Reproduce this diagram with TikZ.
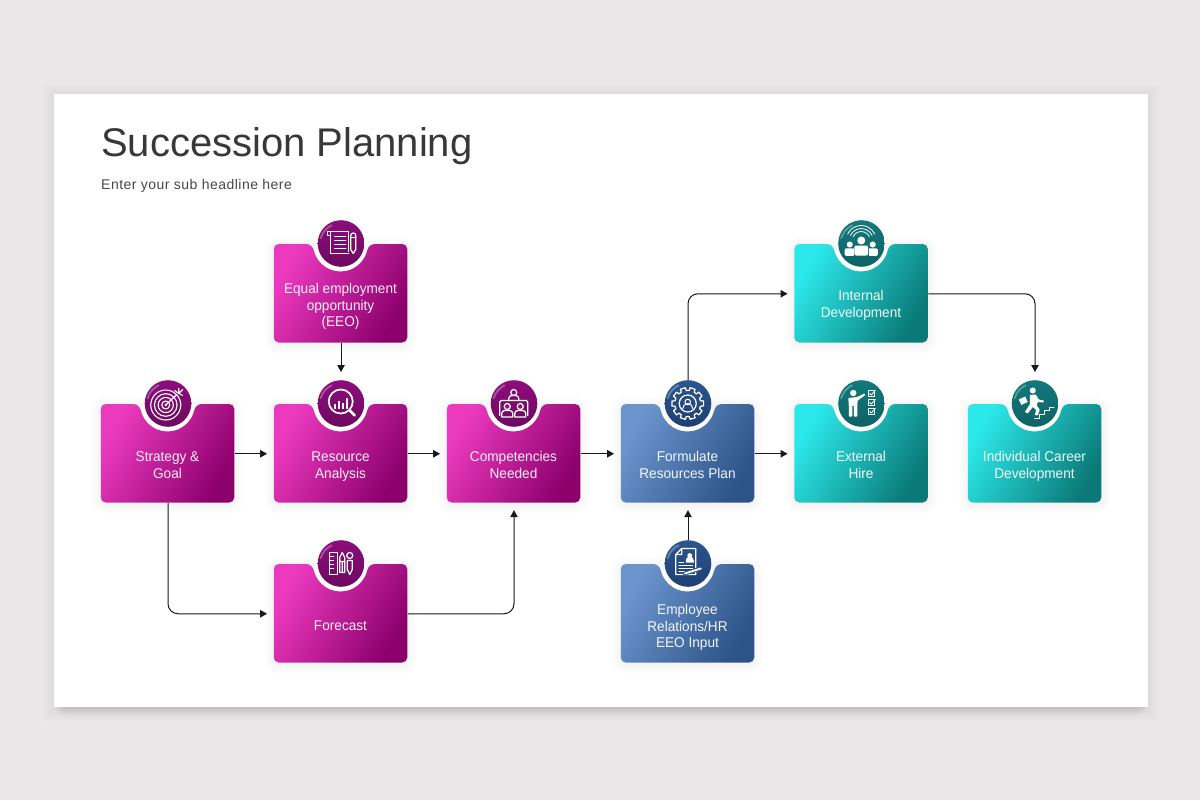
\documentclass[tikz,border=0pt]{standalone}
\usepackage{fontspec}
\setmainfont{Liberation Sans}
\newfontfamily\cardfont[FakeStretch=0.96]{Liberation Sans}
\usetikzlibrary{arrows.meta,calc}
\definecolor{pageBg}{HTML}{E9E7E8}
\definecolor{magA}{HTML}{EC3ABF}\definecolor{magB}{HTML}{8C006C}\definecolor{magC}{HTML}{8E0C7C}\definecolor{magD}{HTML}{6C0A60}
\definecolor{bluA}{HTML}{6C95CE}\definecolor{bluB}{HTML}{2C5488}\definecolor{bluC}{HTML}{2C5690}\definecolor{bluD}{HTML}{1E3F72}
\definecolor{teaA}{HTML}{2CE8EA}\definecolor{teaB}{HTML}{0A7A78}\definecolor{teaC}{HTML}{12797C}\definecolor{teaD}{HTML}{0E6264}
\tikzset{
  x=1pt,y=-1pt,
  cardbox/.style={minimum width=133.5pt,minimum height=98.5pt,inner sep=0pt},
  cardlabel/.style={text=white,text opacity=.93,align=center,font=\cardfont\fontsize{14.2}{16.6}\selectfont,inner sep=0pt,
    execute at begin node=\strut,execute at end node=\strut},
  ballnode/.style={circle,minimum size=46.6pt,inner sep=0pt},
  link/.style={draw=black!90,line width=1pt,rounded corners=10pt,-{Triangle[length=7pt,width=7.5pt]}},
  ico/.style={draw=white,line width=1.25pt,line join=round,line cap=round,fill=none},
}
% card: [label offset], name, cx, top, palette prefix, text, icon macro
\newcommand{\mycard}[7][63.5]{%
  \begin{scope}[shift={(#3,#4)}]
    \foreach \w in {2,4,...,20}
      \draw[black,opacity=.005,line width=\w pt,rounded corners=6pt] (-66.7,2) rectangle (66.7,100);
    \node[cardbox] (#2) at (0.5,49.75) {};
    \shade[left color=#5A,right color=#5B,shading angle=60]
      (-66.75,5) arc[start angle=180,end angle=270,radius=5]
      -- (-34.6,0) arc[start angle=-90,end angle=-13,radius=8]
      arc[start angle=167,end angle=13,radius=27.5]
      arc[start angle=193,end angle=270,radius=8]
      -- (61.75,0) arc[start angle=-90,end angle=0,radius=5]
      -- (66.75,93.5) arc[start angle=0,end angle=90,radius=5]
      -- (-61.75,98.5) arc[start angle=90,end angle=180,radius=5] -- cycle;
    \node[cardlabel] (#2-label) at (0,#1) {#6};
    \node[ballnode,top color=#5C,bottom color=#5D] (#2-ball) at (0.5,-0.5) {};
    \draw[white,opacity=.28,line width=2pt,line cap=round] (-0.5,-0.5)++(195:20) arc[start angle=195,end angle=245,radius=20];
    \begin{scope}[shift={(0.25,-0.5)}]#7\end{scope}
  \end{scope}}
\newcommand{\iconTarget}{%
  \foreach \r in {15,11.3,7.6,4}\draw[ico,line width=1.1pt] (-2,1.5) circle[radius=\r];
  \fill[white] (-2,1.5) circle[radius=1.4];
  \draw[ico] (-2,1.5) -- (9,-9);
  \draw[ico,line width=1.1pt] (7,-13) -- (11,-10) -- (15,-14) (11,-15) -- (11,-10) -- (15,-8);}
\newcommand{\iconLens}{%
  \draw[ico,line width=1.7pt] (0,-2) circle[radius=12];
  \draw[ico,line width=2.8pt] (9,7) -- (14,12);
  \foreach \x/\h in {-6/5,-2/8,2/6,6/11}\draw[ico,line width=2.4pt,line cap=butt] (\x,5) -- (\x,5-\h);}
\newcommand{\iconDoc}{%
  \draw[ico] (8,8) -- (8,-12) -- (-10,-12) -- (-10,-8) -- (-13,-8) -- (-13,-12) -- (-10,-12) (-10,-8) -- (-10,10) -- (8,10);
  \foreach \y in {-7,-3,1,5}\draw[ico] (-6,\y) -- (5,\y);
  \draw[ico] (10,-8) -- (10,6) -- (12.5,10) -- (15,6) -- (15,-8) arc[start angle=0,end angle=-180,radius=2.5] -- cycle;
  \draw[ico] (10,-6) -- (15,-6);}
\newcommand{\iconMeet}{%
  \draw[ico] (0,-11) circle[radius=3];
  \draw[ico] (-5,-3) -- (-5,-5) arc[start angle=180,end angle=270,radius=3] -- (2,-8) arc[start angle=-90,end angle=0,radius=3] -- (5,-3);
  \draw[ico,rounded corners=1.5pt] (-14,12) -- (-14,-3) -- (14,-3) -- (14,12);
  \foreach \x in {-6.5,6.5}{
    \draw[ico,fill=magC] (\x,3) circle[radius=3];
    \draw[ico] (\x-5.5,13.5) -- (\x-5.5,10) arc[start angle=180,end angle=270,radius=3] -- (\x+2.5,7) arc[start angle=-90,end angle=0,radius=3] -- (\x+5.5,13.5) -- cycle;}
  }
\newcommand{\iconGear}{%
  \foreach \a in {0,36,...,324}
    \draw[ico] (\a-9:16) -- (\a+9:16) -- (\a+12:13) -- (\a+24:13) -- (\a+27:16);
  \draw[ico] (0,0) circle[radius=8.5];
  \draw[ico,line width=1pt] (0,-1.5) circle[radius=2.8];
  \draw[ico,line width=1pt] (-5,5) arc[start angle=180,end angle=360,radius=5];}
\newcommand{\iconTools}{%
  \draw[ico] (-11,-11) rectangle (-3,11);
  \foreach \y in {-7,-3,1,5}\draw[ico,line width=.9pt] (-11,\y) -- (-7,\y);
  \draw[ico] (-1,9) -- (-1,-6) -- (1.5,-11) -- (4,-6) -- (4,9) -- cycle (-1,-2)--(4,-2) (1.5,-2)--(1.5,9);
  \draw[ico] (6.5,-3) -- (6.5,6) -- (9,11) -- (11.5,6) -- (11.5,-3) -- cycle (9,-8) circle[radius=3];}
\newcommand{\iconForm}{%
  \draw[ico] (-6,-15) -- (8,-15) -- (8,11) -- (-12,11) -- (-12,-9) -- cycle (-6,-15) -- (-6,-9) -- (-12,-9);
  \fill[white] (2,-8) circle[radius=2.4];
  \fill[white] (-2,-1) -- (-2,-3) arc[start angle=180,end angle=360,radius=4] -- (6,-1) -- cycle;
  \foreach \y in {2,5}\draw[ico,line width=.9pt] (-9,\y) -- (5,\y);
  \draw[ico,line width=.9pt] (-9,-1) -- (-4,-1);
  \draw[ico,line width=.9pt] (-9,8) -- (-3,8);
  \draw[ico,draw=bluC,line width=4pt] (-3,10) -- (13,5);
  \draw[ico,line width=1.8pt] (-3,10) -- (13,5);}
\newcommand{\personF}[3]{% x,y,scale
  \fill[white] (#1,#2) circle[radius=3.2*#3];
  \fill[white,rounded corners=2pt] (#1-5.5*#3,#2+12*#3) -- (#1-5.5*#3,#2+4*#3) -- (#1+5.5*#3,#2+4*#3) -- (#1+5.5*#3,#2+12*#3) -- cycle;}
\newcommand{\iconGroup}{%
  \personF{-11.5}{1}{.95}
  \personF{11.5}{1}{.95}
  \draw[teaC,line width=3pt] (-6,3) rectangle (6,11);
  \personF{0}{-3}{1.25}
  \foreach \r in {9,12,15}\draw[ico,line width=.8pt] (0,-3)++(-155:\r) arc[start angle=-155,end angle=-25,radius=\r];}
\newcommand{\iconCoach}{%
  \fill[white] (-8,-10.5) circle[radius=3.2];
  \fill[white,rounded corners=.6pt] (-13,-5.5) -- (-4,-6.5) -- (3,-10) -- (4,-8.5) -- (-3.5,-3) -- (-4,1) -- (-4,13) -- (-7.5,13) -- (-7.5,2) -- (-9,2) -- (-9,13) -- (-12.5,13) -- (-12.5,1) -- cycle;
  \foreach \y in {-10,-1,8}{
    \draw[ico,line width=.9pt] (7,\y-3) rectangle (13.5,\y+3);
    \draw[ico,line width=.9pt] (8.5,\y) -- (10,\y+1.5) -- (14,\y-3);}}
\newcommand{\iconRun}{%
  \fill[white] (-2,-13) circle[radius=3];
  \fill[white,rounded corners=.6pt] (-5,-8.5) -- (1,-9) -- (4,-4) -- (9,-3) -- (9,-1) -- (3,-1.5) -- (2,2) -- (5,6) -- (3,12) -- (0,11.5) -- (1.5,6.5) -- (-2,3.5) -- (-7,10) -- (-10,8.5) -- (-5,1) -- cycle;
  \fill[white,rotate around={25:(-11,-3)}] (-15,-6) rectangle (-8,0);
  \draw[ico,line width=1.3pt] (0,15) -- (5,15) -- (5,11) -- (10,11) -- (10,7) -- (15,7) -- (15,4) -- (19,4);}
\begin{document}
\begin{tikzpicture}
\useasboundingbox (0,0) rectangle (1200,800);
\fill[pageBg] (0,0) rectangle (1200,800);
\foreach \w in {2,4,...,28}
  \draw[black,opacity=.005,line width=\w pt] (56,98) rectangle (1146,708);
\foreach \w in {2,4,...,22}
  \draw[black,opacity=.01,line width=\w pt,line cap=round] (66,705) -- (1136,705);
\fill[white] (54,94) rectangle (1148,707);
\node[anchor=base west,inner sep=0pt,text=black!78,font=\fontsize{40}{44}\selectfont] (title) at (101,156) {Succession Planning};
\node[anchor=base west,inner sep=0pt,text=black!72,font=\addfontfeature{LetterSpace=3.4}\fontsize{14}{16}\selectfont] (sub) at (101,189) {Enter your sub headline here};
\mycard{eeo}{340.5}{244}{mag}{Equal employment\\opportunity\\(EEO)}{\iconDoc}
\mycard{strategy}{167.5}{404}{mag}{Strategy \&\\Goal}{\iconTarget}
\mycard{resource}{340.5}{404}{mag}{Resource\\Analysis}{\iconLens}
\mycard{compet}{513.5}{404}{mag}{Competencies\\Needed}{\iconMeet}
\mycard{forecast}{340.5}{564}{mag}{Forecast}{\iconTools}
\mycard{formulate}{687.5}{404}{blu}{Formulate\\Resources Plan}{\iconGear}
\mycard[64.5]{employee}{687.5}{564}{blu}{Employee\\Relations/HR\\EEO Input}{\iconForm}
\mycard[62.5]{internal}{861}{244}{tea}{Internal\\Development}{\iconGroup}
\mycard{external}{861}{404}{tea}{External\\Hire}{\iconCoach}
\mycard{individual}{1034.5}{404}{tea}{Individual Career\\Development}{\iconRun}
\draw[link,shorten >=7pt] (strategy.east) -- (resource.west);
\draw[link,shorten >=7pt] (resource.east) -- (compet.west);
\draw[link,shorten >=7pt] (compet.east) -- (formulate.west);
\draw[link,shorten >=7pt] (formulate.east) -- (external.west);
\draw[link,shorten >=8pt] (eeo.south) -- (resource-ball.north);
\draw[link,shorten >=7pt] (employee-ball.north) -- (formulate.south);
\draw[link,shorten >=7pt] (strategy.south) |- (forecast.west);
\draw[link,shorten >=7pt] (forecast.east) -| (compet.south);
\draw[link,shorten >=7pt] (formulate-ball.north) |- (internal.west);
\draw[link,shorten >=8pt] (internal.east) -| (individual-ball.north);
\end{tikzpicture}
\end{document}
